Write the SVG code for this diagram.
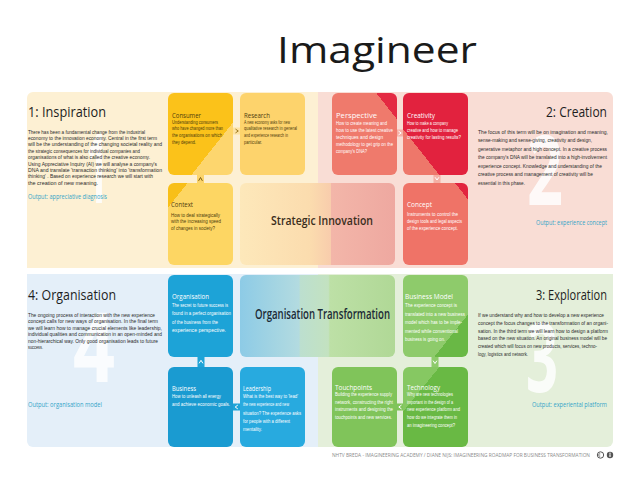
<svg xmlns="http://www.w3.org/2000/svg" width="638" height="479" viewBox="0 0 638 479">
<defs>
<style>
text{font-family:"Open Sans","Liberation Sans",sans-serif}
.hd{font-size:14px;fill:#1e1e1e}
.pb{font-family:"Liberation Sans Narrow","Liberation Sans",sans-serif;font-size:5.2px;fill:#2b2b2b}
.out{font-size:7px;fill:#35a5c8}
.bt{font-size:7.6px}
.bb{font-family:"Liberation Sans Narrow","Liberation Sans",sans-serif;font-size:4.7px}
.dk{fill:#4d3c0c}
.wt{fill:#fff}
.big{font-size:96px;font-weight:bold;fill:#fff;opacity:0.85;text-anchor:middle}
.tab{stroke:none}
.chev{fill:none;stroke-width:1;stroke-linecap:round;stroke-linejoin:round}
</style>
<linearGradient id="gConsumer" x1="0" y1="0" x2="1" y2="1"><stop offset="0" stop-color="#fbc21a"/><stop offset="0.68" stop-color="#fbc21a"/><stop offset="0.68" stop-color="#fdd66e"/><stop offset="1" stop-color="#fdd66e"/></linearGradient>
<linearGradient id="gContext" x1="0" y1="0" x2="1" y2="1"><stop offset="0" stop-color="#f8bf18"/><stop offset="0.15" stop-color="#f8bf18"/><stop offset="0.15" stop-color="#fdd663"/><stop offset="1" stop-color="#fdd663"/></linearGradient>
<linearGradient id="gPersp" x1="0" y1="1" x2="1" y2="0"><stop offset="0" stop-color="#ef7a6c"/><stop offset="0.84" stop-color="#ef7a6c"/><stop offset="0.84" stop-color="#e42a42"/><stop offset="1" stop-color="#e42a42"/></linearGradient>
<linearGradient id="gCreat" x1="0" y1="1" x2="1" y2="0"><stop offset="0" stop-color="#ee776a"/><stop offset="0.28" stop-color="#ee776a"/><stop offset="0.28" stop-color="#e2223e"/><stop offset="1" stop-color="#e2223e"/></linearGradient>
<linearGradient id="gConcept" x1="0" y1="1" x2="1" y2="0"><stop offset="0" stop-color="#ef7367"/><stop offset="0.9" stop-color="#ef7367"/><stop offset="0.9" stop-color="#e2243f"/><stop offset="1" stop-color="#e2243f"/></linearGradient>
<linearGradient id="gBizModel" x1="0" y1="0" x2="1" y2="1"><stop offset="0" stop-color="#8ecb6b"/><stop offset="0.74" stop-color="#8ecb6b"/><stop offset="0.74" stop-color="#69b845"/><stop offset="1" stop-color="#69b845"/></linearGradient>
<linearGradient id="gTech" x1="0" y1="0" x2="1" y2="1"><stop offset="0" stop-color="#86c862"/><stop offset="0.28" stop-color="#86c862"/><stop offset="0.28" stop-color="#69b944"/><stop offset="1" stop-color="#69b944"/></linearGradient>
<linearGradient id="gStrat" x1="0" y1="0" x2="1" y2="0"><stop offset="0" stop-color="#fde8ba"/><stop offset="0.45" stop-color="#fbdcae"/><stop offset="0.59" stop-color="#f8ccac"/><stop offset="0.59" stop-color="#f3b6a9"/><stop offset="1" stop-color="#eea8a0"/></linearGradient>
<linearGradient id="gOrgT" x1="0" y1="0" x2="1" y2="0"><stop offset="0" stop-color="#8dcbe6"/><stop offset="0.38" stop-color="#b3dbe0"/><stop offset="0.39" stop-color="#bcdfcf"/><stop offset="0.57" stop-color="#c3e2c0"/><stop offset="0.58" stop-color="#bde0a6"/><stop offset="1" stop-color="#b0d896"/></linearGradient>
</defs>
<rect width="638" height="479" fill="#fff"/>
<text x="277" y="63" font-size="36" fill="#1a1a1a" textLength="200" lengthAdjust="spacingAndGlyphs">Imagineer</text>

<g id="quadrants">
<path d="M33,92 H318 V268 H27 V98 A6,6 0 0 1 33,92 Z" fill="#fdf0d3"/>
<path d="M318,92 H607 A6,6 0 0 1 613,98 V268 H318 Z" fill="#f9ddd5"/>
<path d="M27,274 H318 V447 H33 A6,6 0 0 1 27,441 Z" fill="#e4eff9"/>
<path d="M318,274 H613 V441 A6,6 0 0 1 607,447 H318 Z" fill="#e4efda"/>
<text class="big" x="97" y="203" textLength="22" lengthAdjust="spacingAndGlyphs">1</text>
<text class="big" x="545" y="205" textLength="36" lengthAdjust="spacingAndGlyphs">2</text>
<text class="big" x="94" y="382" textLength="42" lengthAdjust="spacingAndGlyphs">4</text>
<text class="big" x="542" y="392" textLength="32" lengthAdjust="spacingAndGlyphs">3</text>
</g>

<g id="inspiration">
<text class="hd" x="28" y="117" textLength="78" lengthAdjust="spacingAndGlyphs">1: Inspiration</text>
<text class="pb" x="28" y="133.5" textLength="117" lengthAdjust="spacingAndGlyphs">There has been a fundamental change from the industrial</text>
<text class="pb" x="28" y="139.9" textLength="129" lengthAdjust="spacingAndGlyphs">economy to the innovation economy. Central in the first term</text>
<text class="pb" x="28" y="146.3" textLength="134" lengthAdjust="spacingAndGlyphs">will be the understanding of the changing societal reality and</text>
<text class="pb" x="28" y="152.7" textLength="112" lengthAdjust="spacingAndGlyphs">the strategic consequences for individual companies and</text>
<text class="pb" x="28" y="159.1" textLength="122" lengthAdjust="spacingAndGlyphs">organisations of what is also called the creative economy.</text>
<text class="pb" x="28" y="165.5" textLength="129" lengthAdjust="spacingAndGlyphs">Using Appreciative Inquiry (AI) we will analyse a company's</text>
<text class="pb" x="28" y="171.9" textLength="134" lengthAdjust="spacingAndGlyphs">DNA and translate 'transaction thinking' into 'transformation</text>
<text class="pb" x="28" y="178.3" textLength="125" lengthAdjust="spacingAndGlyphs">thinking' . Based on experience research we will start with</text>
<text class="pb" x="28" y="184.7" textLength="70" lengthAdjust="spacingAndGlyphs">the creation of new meaning.</text>
<text class="out" x="28" y="198.5" textLength="79" lengthAdjust="spacingAndGlyphs">Output: appreciative diagnosis</text>
</g>

<g id="creation">
<text class="hd" x="607" y="117" text-anchor="end" textLength="61" lengthAdjust="spacingAndGlyphs">2: Creation</text>
<text class="pb" x="478" y="133.5" textLength="130" lengthAdjust="spacingAndGlyphs">The focus of this term will be on imagination and meaning,</text>
<text class="pb" x="478" y="142" textLength="114" lengthAdjust="spacingAndGlyphs">sense-making and sense-giving, creativity and design,</text>
<text class="pb" x="478" y="150.5" textLength="129" lengthAdjust="spacingAndGlyphs">generative metaphor and high concept. In a creative process</text>
<text class="pb" x="478" y="159" textLength="129" lengthAdjust="spacingAndGlyphs">the company's DNA will be translated into a high-involvement</text>
<text class="pb" x="478" y="167.5" textLength="124" lengthAdjust="spacingAndGlyphs">experience concept. Knowledge and understanding of the</text>
<text class="pb" x="478" y="176" textLength="115" lengthAdjust="spacingAndGlyphs">creative process and management of creativity will be</text>
<text class="pb" x="478" y="184.5" textLength="47" lengthAdjust="spacingAndGlyphs">essential in this phase.</text>
<text class="out" x="607" y="225" text-anchor="end" textLength="71" lengthAdjust="spacingAndGlyphs">Output: experience concept</text>
</g>

<g id="organisation-phase">
<text class="hd" x="28" y="300" textLength="88" lengthAdjust="spacingAndGlyphs">4: Organisation</text>
<text class="pb" x="28" y="317" textLength="127" lengthAdjust="spacingAndGlyphs">The ongoing process of interaction with the new experience</text>
<text class="pb" x="28" y="323.4" textLength="130" lengthAdjust="spacingAndGlyphs">concept calls for new ways of organisation. In the final term</text>
<text class="pb" x="28" y="329.8" textLength="134" lengthAdjust="spacingAndGlyphs">we will learn how to manage crucial elements like leadership,</text>
<text class="pb" x="28" y="336.2" textLength="134" lengthAdjust="spacingAndGlyphs">individual qualities and communication in an open-minded and</text>
<text class="pb" x="28" y="342.6" textLength="130" lengthAdjust="spacingAndGlyphs">non-hierarchical way. Only good  organisation leads to future</text>
<text class="pb" x="28" y="349" textLength="15" lengthAdjust="spacingAndGlyphs">success.</text>
<text class="out" x="28" y="407" textLength="74" lengthAdjust="spacingAndGlyphs">Output: organisation model</text>
</g>

<g id="exploration">
<text class="hd" x="607" y="300" text-anchor="end" textLength="71" lengthAdjust="spacingAndGlyphs">3: Exploration</text>
<text class="pb" x="478" y="317" textLength="126" lengthAdjust="spacingAndGlyphs">If we understand why and how to develop a new experience</text>
<text class="pb" x="478" y="324.8" textLength="130" lengthAdjust="spacingAndGlyphs">concept the focus changes to the transformation of an organi-</text>
<text class="pb" x="478" y="332.6" textLength="130" lengthAdjust="spacingAndGlyphs">sation. In the third term we will learn how to design a platform</text>
<text class="pb" x="478" y="340.4" textLength="129" lengthAdjust="spacingAndGlyphs">based on the new situation. An original business model will be</text>
<text class="pb" x="478" y="348.2" textLength="119" lengthAdjust="spacingAndGlyphs">created which will focus on new products, services, techno-</text>
<text class="pb" x="478" y="356" textLength="50" lengthAdjust="spacingAndGlyphs">logy, logistics and network.</text>
<text class="out" x="607" y="407" text-anchor="end" textLength="75" lengthAdjust="spacingAndGlyphs">Output: experiental platform</text>
</g>

<g id="consumer">
<rect x="168" y="93" width="65" height="82" rx="6" fill="url(#gConsumer)"/>
<text class="bt dk" x="172" y="117.5" textLength="29" lengthAdjust="spacingAndGlyphs">Consumer</text>
<text class="bb dk" x="172" y="123.5" textLength="46" lengthAdjust="spacingAndGlyphs">Understanding consumers</text>
<text class="bb dk" x="172" y="130.2" textLength="51" lengthAdjust="spacingAndGlyphs">who have changed more than</text>
<text class="bb dk" x="172" y="136.9" textLength="50" lengthAdjust="spacingAndGlyphs">the organisations on which</text>
<text class="bb dk" x="172" y="143.6" textLength="24" lengthAdjust="spacingAndGlyphs">they depend.</text>
</g>

<g id="research">
<rect x="240" y="93" width="65" height="82" rx="6" fill="#fdd36c"/>
<text class="bt dk" x="244" y="117.5" textLength="26" lengthAdjust="spacingAndGlyphs">Research</text>
<text class="bb dk" x="244" y="123.5" textLength="46" lengthAdjust="spacingAndGlyphs">A new economy asks for new</text>
<text class="bb dk" x="244" y="130.2" textLength="53" lengthAdjust="spacingAndGlyphs">qualitative research in general</text>
<text class="bb dk" x="244" y="136.9" textLength="44" lengthAdjust="spacingAndGlyphs">and experience research in</text>
<text class="bb dk" x="244" y="143.6" textLength="18" lengthAdjust="spacingAndGlyphs">particular.</text>
</g>

<g id="context">
<rect x="168" y="183" width="65" height="82" rx="6" fill="url(#gContext)"/>
<text class="bt dk" x="171" y="207" textLength="22" lengthAdjust="spacingAndGlyphs">Context</text>
<text class="bb dk" x="171" y="216.5" textLength="49" lengthAdjust="spacingAndGlyphs">How to deal strategically</text>
<text class="bb dk" x="171" y="223" textLength="50" lengthAdjust="spacingAndGlyphs">with the increasing speed</text>
<text class="bb dk" x="171" y="229.5" textLength="44" lengthAdjust="spacingAndGlyphs">of changes in society?</text>
</g>

<g id="strategic-innovation">
<rect x="240" y="183" width="155" height="82" rx="6" fill="url(#gStrat)"/>
<text x="271" y="225" font-size="13" font-weight="600" fill="#3a2d1c" textLength="102" lengthAdjust="spacingAndGlyphs">Strategic Innovation</text>
</g>

<g id="perspective">
<rect x="332" y="93" width="65" height="82" rx="6" fill="url(#gPersp)"/>
<text class="bt wt" x="336" y="117.5" textLength="41" lengthAdjust="spacingAndGlyphs">Perspective</text>
<text class="bb wt" x="336" y="124.5" textLength="51" lengthAdjust="spacingAndGlyphs">How to create meaning and</text>
<text class="bb wt" x="336" y="131.5" textLength="57" lengthAdjust="spacingAndGlyphs">how to use the latest creative</text>
<text class="bb wt" x="336" y="138.5" textLength="47" lengthAdjust="spacingAndGlyphs">techniques and design</text>
<text class="bb wt" x="336" y="145.5" textLength="57" lengthAdjust="spacingAndGlyphs">methodology to get grip on the</text>
<text class="bb wt" x="336" y="152.5" textLength="31" lengthAdjust="spacingAndGlyphs">company's DNA?</text>
</g>

<g id="creativity">
<rect x="403" y="93" width="65" height="82" rx="6" fill="url(#gCreat)"/>
<text class="bt wt" x="407" y="117.5" textLength="28" lengthAdjust="spacingAndGlyphs">Creativity</text>
<text class="bb wt" x="407" y="124.5" textLength="41" lengthAdjust="spacingAndGlyphs">How to make a company</text>
<text class="bb wt" x="407" y="131.5" textLength="51" lengthAdjust="spacingAndGlyphs">creative and how to manage</text>
<text class="bb wt" x="407" y="138.5" textLength="54" lengthAdjust="spacingAndGlyphs">creativity for lasting results?</text>
</g>

<g id="concept">
<rect x="403" y="183" width="65" height="82" rx="6" fill="url(#gConcept)"/>
<text class="bt wt" x="407" y="206.5" textLength="25" lengthAdjust="spacingAndGlyphs">Concept</text>
<text class="bb wt" x="407" y="215.5" textLength="51" lengthAdjust="spacingAndGlyphs">Instruments to control the</text>
<text class="bb wt" x="407" y="222.5" textLength="55" lengthAdjust="spacingAndGlyphs">design tools and legal aspects</text>
<text class="bb wt" x="407" y="229.5" textLength="51" lengthAdjust="spacingAndGlyphs">of the experience concept.</text>
</g>

<g id="organisation">
<rect x="168" y="275" width="65" height="82" rx="6" fill="#1da3d7"/>
<text class="bt wt" x="172" y="298.5" textLength="37" lengthAdjust="spacingAndGlyphs">Organisation</text>
<text class="bb wt" x="172" y="306.5" textLength="56" lengthAdjust="spacingAndGlyphs">The secret to future success is</text>
<text class="bb wt" x="172" y="315" textLength="59" lengthAdjust="spacingAndGlyphs">found in a perfect organisation</text>
<text class="bb wt" x="172" y="323.5" textLength="46" lengthAdjust="spacingAndGlyphs">of the business from the</text>
<text class="bb wt" x="172" y="332" textLength="54" lengthAdjust="spacingAndGlyphs">experience perspective.</text>
</g>

<g id="organisation-transformation">
<rect x="240" y="275" width="155" height="82" rx="6" fill="url(#gOrgT)"/>
<text x="255" y="319" font-size="13.5" font-weight="600" fill="#1b2a36" textLength="135" lengthAdjust="spacingAndGlyphs">Organisation  Transformation</text>
</g>

<g id="business-model">
<rect x="403" y="275" width="65" height="82" rx="6" fill="url(#gBizModel)"/>
<text class="bt wt" x="405" y="299" textLength="48" lengthAdjust="spacingAndGlyphs">Business Model</text>
<text class="bb wt" x="405" y="306.8" textLength="52" lengthAdjust="spacingAndGlyphs">The experience concept is</text>
<text class="bb wt" x="405" y="315.5" textLength="60" lengthAdjust="spacingAndGlyphs">translated into a new business</text>
<text class="bb wt" x="405" y="324.1" textLength="57" lengthAdjust="spacingAndGlyphs">model which has to be imple-</text>
<text class="bb wt" x="405" y="332.7" textLength="53" lengthAdjust="spacingAndGlyphs">mented while conventional</text>
<text class="bb wt" x="405" y="341.2" textLength="40" lengthAdjust="spacingAndGlyphs">business is going on.</text>
</g>

<g id="business">
<rect x="168" y="367" width="65" height="80" rx="6" fill="#1a9bd1"/>
<text class="bt wt" x="172" y="391" textLength="24" lengthAdjust="spacingAndGlyphs">Business</text>
<text class="bb wt" x="172" y="397.8" textLength="49" lengthAdjust="spacingAndGlyphs">How to unleash all energy</text>
<text class="bb wt" x="172" y="405.6" textLength="58" lengthAdjust="spacingAndGlyphs">and achieve economic goals.</text>
</g>

<g id="leadership">
<rect x="240" y="367" width="65" height="80" rx="6" fill="#28aadf"/>
<text class="bt wt" x="243" y="391" textLength="28" lengthAdjust="spacingAndGlyphs">Leadership</text>
<text class="bb wt" x="243" y="397.8" textLength="55" lengthAdjust="spacingAndGlyphs">What is the best way to 'lead'</text>
<text class="bb wt" x="243" y="406.2" textLength="46" lengthAdjust="spacingAndGlyphs">the new experience and new</text>
<text class="bb wt" x="243" y="414.6" textLength="58" lengthAdjust="spacingAndGlyphs">situation? The experience asks</text>
<text class="bb wt" x="243" y="423" textLength="47" lengthAdjust="spacingAndGlyphs">for people with a different</text>
<text class="bb wt" x="243" y="431.4" textLength="19" lengthAdjust="spacingAndGlyphs">mentality.</text>
</g>

<g id="touchpoints">
<rect x="332" y="367" width="65" height="80" rx="6" fill="#80c45a"/>
<text class="bt wt" x="335" y="389.5" textLength="37" lengthAdjust="spacingAndGlyphs">Touchpoints</text>
<text class="bb wt" x="335" y="396" textLength="57" lengthAdjust="spacingAndGlyphs">Building the experience supply</text>
<text class="bb wt" x="335" y="403.6" textLength="58" lengthAdjust="spacingAndGlyphs">network, constructing the right</text>
<text class="bb wt" x="335" y="411.2" textLength="58" lengthAdjust="spacingAndGlyphs">instruments and designing the</text>
<text class="bb wt" x="335" y="418.8" textLength="57" lengthAdjust="spacingAndGlyphs">touchpoints and new services.</text>
</g>

<g id="technology">
<rect x="403" y="367" width="65" height="80" rx="6" fill="url(#gTech)"/>
<text class="bt wt" x="407" y="389.5" textLength="33" lengthAdjust="spacingAndGlyphs">Technology</text>
<text class="bb wt" x="407" y="396" textLength="46" lengthAdjust="spacingAndGlyphs">Why are new technologies</text>
<text class="bb wt" x="407" y="403.6" textLength="46" lengthAdjust="spacingAndGlyphs">important in the design of a</text>
<text class="bb wt" x="407" y="411.2" textLength="53" lengthAdjust="spacingAndGlyphs">new experience platform and</text>
<text class="bb wt" x="407" y="418.8" textLength="50" lengthAdjust="spacingAndGlyphs">how do we integrate them in</text>
<text class="bb wt" x="407" y="426.6" textLength="48" lengthAdjust="spacingAndGlyphs">an imagineering concept?</text>
</g>

<g id="connectors">
<rect class="tab" x="197" y="175" width="7" height="8" fill="#fcd46a"/>
<path class="chev" d="M198.8,180.5 L200.5,177.5 L202.2,180.5" stroke="#7a5c12"/>
<rect class="tab" x="233" y="127.5" width="7" height="7" fill="#fde3a4"/>
<path class="chev" d="M235.8,129.3 L238.3,131 L235.8,132.7" stroke="#a07c24"/>
<rect class="tab" x="397" y="129.5" width="6" height="7" fill="#f6b0a6"/>
<path class="chev" d="M398.8,131.3 L401.2,133 L398.8,134.7" stroke="#fff"/>
<rect class="tab" x="433.5" y="175" width="7" height="8" fill="#f4b0a4"/>
<path class="chev" d="M435.3,177.6 L437,180 L438.7,177.6" stroke="#fff"/>
<rect class="tab" x="197.5" y="357" width="7" height="10" fill="#1da3d7"/>
<path class="chev" d="M199.3,363 L201,360.3 L202.7,363" stroke="#fff"/>
<rect class="tab" x="233" y="403.5" width="7" height="7" fill="#1da3d7"/>
<path class="chev" d="M237.5,405.3 L235.2,407 L237.5,408.7" stroke="#fff"/>
<rect class="tab" x="431.5" y="357" width="7" height="10" fill="#8ecb6b"/>
<path class="chev" d="M433.3,361 L435,363.5 L436.7,361" stroke="#fff"/>
<rect class="tab" x="397" y="403.5" width="6" height="7" fill="#80c45a"/>
<path class="chev" d="M401.2,405.3 L398.8,407 L401.2,408.7" stroke="#fff"/>
</g>

<g id="footer">
<text x="332" y="456.5" font-size="4.6" fill="#8a8a8a" textLength="258" lengthAdjust="spacingAndGlyphs" font-family="Liberation Sans, sans-serif">NHTV BREDA - IMAGINEERING ACADEMY / DIANE NIJS: IMAGINEERING ROADMAP FOR BUSINESS TRANSFORMATION</text>
<circle cx="600.5" cy="455" r="3.2" fill="#fff" stroke="#555" stroke-width="1"/>
<path d="M600.3,453.9 A1.2,1.2 0 1 0 600.3,456.1" fill="none" stroke="#555" stroke-width="0.7"/>
<circle cx="610" cy="455" r="3.2" fill="#555"/>
<circle cx="610" cy="453.3" r="0.7" fill="#fff"/>
<rect x="609.4" y="454.3" width="1.2" height="2.6" fill="#fff"/>
</g>
</svg>
